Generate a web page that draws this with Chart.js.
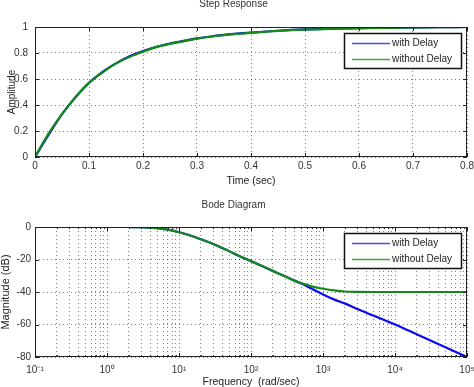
<!DOCTYPE html>
<html>
<head>
<meta charset="utf-8">
<script src="https://cdn.jsdelivr.net/npm/chart.js@4/dist/chart.umd.min.js"></script>
<style>
  html, body { margin: 0; padding: 0; background: #fff; overflow: hidden; }
  #stepWrap { position: absolute; left: 0; top: -3px; }
  #bodeWrap { position: absolute; left: 0; top: 193px; }
</style>
</head>
<body>
<div id="stepWrap"><canvas id="stepChart" width="474" height="196"></canvas></div>
<div id="bodeWrap"><canvas id="bodeChart" width="474" height="194"></canvas></div>
<script>
// step response (amplitude vs time in sec)
const stepTime = [0, 0.025, 0.05, 0.075, 0.1, 0.125, 0.15, 0.175, 0.2, 0.225, 0.25, 0.275, 0.3,
  0.325, 0.35, 0.375, 0.4, 0.45, 0.5, 0.55, 0.6, 0.65, 0.7, 0.75, 0.8];
const stepWithDelay = [0, 0.17, 0.33, 0.46, 0.57, 0.655, 0.72, 0.775, 0.815, 0.848, 0.873, 0.893, 0.912,
  0.927, 0.939, 0.949, 0.957, 0.971, 0.981, 0.987, 0.991, 0.995, 0.997, 0.999, 1.0];
const stepWithoutDelay = [0, 0.18, 0.33, 0.46, 0.57, 0.65, 0.72, 0.77, 0.81, 0.845, 0.87, 0.89, 0.91,
  0.925, 0.937, 0.947, 0.955, 0.97, 0.98, 0.986, 0.99, 0.994, 0.996, 0.998, 1.0];
const timeTicks = [0, 0.1, 0.2, 0.3, 0.4, 0.5, 0.6, 0.7, 0.8];
const ampTicks = [0, 0.2, 0.4, 0.6, 0.8, 1];

// bode magnitude (dB vs rad/sec)
const bodeFreq = [2, 3, 5, 7, 10, 15, 20, 30, 50, 70, 100, 150, 200, 300, 400, 500, 700,
  1000, 1500, 2000, 3000, 5000, 10000, 20000, 50000, 100000];
const bodeWithDelay = [0, -0.1, -0.7, -1.6, -3.2, -5.5, -7.5, -10.5, -15, -18, -21, -24.5, -27,
  -30.5, -33, -34.8, -38, -41.5, -45, -47, -50.5, -54.5, -60, -66, -74, -80];
const bodeWithoutDelay = [0, -0.1, -0.7, -1.6, -3.2, -5.5, -7.5, -10.5, -15, -18, -21, -24.5, -27,
  -30.5, -33, -34.5, -36.5, -38, -39.2, -39.7, -39.9, -40, -40, -40, -40, -40];
const freqDecades = [-1, 0, 1, 2, 3, 4, 5];
const magTicks = [-80, -60, -40, -20, 0];

const seriesNames = ['with Delay', 'without Delay'];
const seriesColors = ['#0a0af0', '#15891a'];
const legendColors = ['#4848f4', '#3aa83a'];

const FONT = 'Liberation Sans, Arial, sans-serif';
const TEXT = '#333';
const sup = { '-': '\u207b', '0': '\u2070', '1': '\u00b9', '2': '\u00b2', '3': '\u00b3', '4': '\u2074', '5': '\u2075' };

// MATLAB style box with inward tick marks, plus a boxed legend
const framePlugin = {
  id: 'frame',
  afterDatasetsDraw(chart) {
    const { ctx, chartArea: a, scales } = chart;
    ctx.save();
    ctx.strokeStyle = '#222';
    ctx.lineWidth = 1;
    ctx.beginPath();
    scales.x.ticks.forEach(t => {
      const x = Math.round(scales.x.getPixelForValue(t.value)) + 0.5;
      const len = t.label ? 4 : 2;
      ctx.moveTo(x, a.bottom); ctx.lineTo(x, a.bottom - len);
      ctx.moveTo(x, a.top); ctx.lineTo(x, a.top + len);
    });
    scales.y.ticks.forEach(t => {
      const y = Math.round(scales.y.getPixelForValue(t.value)) + 0.5;
      ctx.moveTo(a.left, y); ctx.lineTo(a.left + 4, y);
      ctx.moveTo(a.right, y); ctx.lineTo(a.right - 4, y);
    });
    ctx.stroke();
    ctx.strokeRect(Math.round(a.left) + 0.5, Math.round(a.top) + 0.5,
      Math.round(a.width) - 1, Math.round(a.height) - 1);

    // legend box, upper right inside the axes
    const bx = Math.round(a.right) - 123, by = Math.round(a.top) + 6;
    ctx.fillStyle = '#fff';
    ctx.fillRect(bx, by, 118, 36);
    ctx.lineWidth = 1.5;
    ctx.strokeStyle = '#111';
    ctx.strokeRect(bx + 0.5, by + 0.5, 117, 35);
    ctx.font = '10px ' + FONT;
    ctx.textBaseline = 'middle';
    chart.data.datasets.forEach((ds, i) => {
      const y = by + 10.5 + i * 16;
      ctx.strokeStyle = legendColors[i];
      ctx.lineWidth = 1.4;
      ctx.beginPath();
      ctx.moveTo(bx + 8, y); ctx.lineTo(bx + 46, y);
      ctx.stroke();
      ctx.fillStyle = '#222';
      ctx.fillText(ds.label, bx + 48, y);
    });
    ctx.restore();
  }
};

const gridStyle = { color: 'rgba(0,0,0,0.5)', lineWidth: 1, drawTicks: false };
const borderStyle = { display: false, dash: [1, 3] };

// fixed axis box sizes so the plot areas line up with the original
function fitX(h) {
  return s => { s.height = h; s.paddingLeft = 0; s.paddingRight = 0; };
}
function fitY(s) { s.width = 35; s.paddingTop = 0; s.paddingBottom = 0; }

function makeDatasets(xs, series) {
  return series.map((ys, i) => ({
    label: seriesNames[i],
    data: xs.map((x, j) => ({ x: x, y: ys[j] })),
    borderColor: seriesColors[i],
    backgroundColor: seriesColors[i],
    borderWidth: 2.2,
    pointRadius: 0,
    cubicInterpolationMode: 'monotone',
    order: i === 0 ? 1 : 0
  }));
}

new Chart(document.getElementById('stepChart'), {
  type: 'line',
  data: { datasets: makeDatasets(stepTime, [stepWithDelay, stepWithoutDelay]) },
  options: {
    responsive: false,
    animation: false,
    devicePixelRatio: 1,
    layout: { padding: { left: 0, right: 7, top: 0, bottom: 0 } },
    plugins: {
      legend: { display: false },
      tooltip: { enabled: false },
      title: {
        display: true,
        text: 'Step Response',
        color: TEXT,
        font: { family: FONT, size: 10, weight: 'normal', lineHeight: 1.2 },
        padding: { top: 1, bottom: 17 }
      }
    },
    scales: {
      x: {
        type: 'linear',
        min: 0,
        max: 0.8,
        afterBuildTicks: s => { s.ticks = timeTicks.map(v => ({ value: v })); },
        afterFit: fitX(36),
        ticks: {
          color: TEXT, padding: 3, maxRotation: 0, autoSkip: false,
          font: { family: FONT, size: 10 },
          callback: (v, i) => String(timeTicks[i])
        },
        grid: gridStyle,
        border: borderStyle,
        title: {
          display: true, text: 'Time (sec)', color: '#222',
          font: { family: FONT, size: 10.5 }, padding: { top: 0, bottom: 6 }
        }
      },
      y: {
        min: 0,
        max: 1,
        afterBuildTicks: s => { s.ticks = ampTicks.map(v => ({ value: v })); },
        afterFit: fitY,
        ticks: {
          color: TEXT, padding: 7, autoSkip: false,
          font: { family: FONT, size: 10 },
          callback: (v, i) => String(ampTicks[i])
        },
        grid: gridStyle,
        border: borderStyle,
        title: {
          display: true, text: 'Amplitude', color: '#222',
          font: { family: FONT, size: 10, lineHeight: 1.2 }, padding: { top: 6, bottom: 0 }
        }
      }
    }
  },
  plugins: [framePlugin]
});

// every 1..9 x 10^k between the decades, labels only on the decades
const freqTicks = [];
freqDecades.forEach((d, k) => {
  const last = k === freqDecades.length - 1;
  for (let m = 1; m <= (last ? 1 : 9); m++) {
    freqTicks.push({ value: Number((m * Math.pow(10, d)).toPrecision(3)), m: m, d: d });
  }
});

new Chart(document.getElementById('bodeChart'), {
  type: 'line',
  data: { datasets: makeDatasets(bodeFreq, [bodeWithDelay, bodeWithoutDelay]) },
  options: {
    responsive: false,
    animation: false,
    devicePixelRatio: 1,
    layout: { padding: { left: 0, right: 7, top: 0, bottom: 0 } },
    plugins: {
      legend: { display: false },
      tooltip: { enabled: false },
      title: {
        display: true,
        text: 'Bode Diagram',
        color: TEXT,
        font: { family: FONT, size: 10, weight: 'normal', lineHeight: 1.2 },
        padding: { top: 6, bottom: 16 }
      }
    },
    scales: {
      x: {
        type: 'logarithmic',
        min: 0.1,
        max: 100000,
        afterBuildTicks: s => { s.ticks = freqTicks.map(t => ({ value: t.value })); },
        afterFit: fitX(30),
        ticks: {
          color: TEXT, padding: 7, maxRotation: 0, minRotation: 0, autoSkip: false,
          font: { family: FONT, size: 10 },
          callback: (v, i) => {
            const t = freqTicks[i];
            if (!t || t.m !== 1) return '';
            return '10' + String(t.d).split('').map(c => sup[c]).join('');
          }
        },
        grid: gridStyle,
        border: borderStyle,
        title: {
          display: true, text: 'Frequency  (rad/sec)', color: '#222',
          font: { family: FONT, size: 10.5, lineHeight: 1 }, padding: { top: 0, bottom: 0 }
        }
      },
      y: {
        min: -80,
        max: 0,
        afterBuildTicks: s => { s.ticks = magTicks.map(v => ({ value: v })); },
        afterFit: fitY,
        ticks: {
          color: TEXT, padding: 4, autoSkip: false,
          font: { family: FONT, size: 10 },
          callback: (v, i) => String(magTicks[i])
        },
        grid: gridStyle,
        border: borderStyle,
        title: {
          display: true, text: 'Magnitude (dB)', color: '#222',
          font: { family: FONT, size: 11, lineHeight: 1 }, padding: { top: 0, bottom: 0 }
        }
      }
    }
  },
  plugins: [framePlugin]
});
</script>
</body>
</html>
